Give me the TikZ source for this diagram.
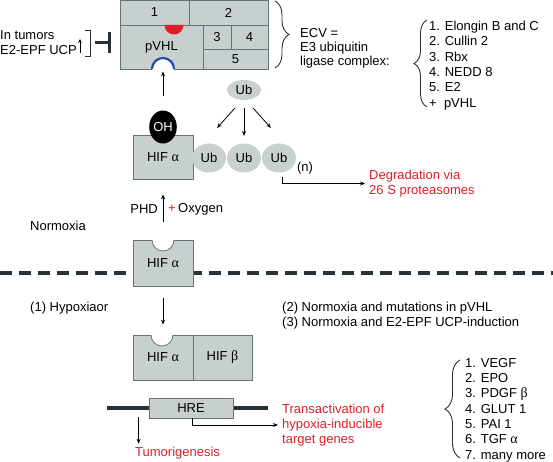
\documentclass[tikz,border=0pt]{standalone}
\usepackage{fontspec}
\setmainfont{Liberation Sans}
\newfontfamily\greekfont{Liberation Serif}
\usetikzlibrary{calc}
\usetikzlibrary{arrows.meta}
\usetikzlibrary{shapes.geometric}
\usetikzlibrary{decorations.pathreplacing}
\definecolor{cellfill}{RGB}{199,207,207}
\definecolor{cellline}{RGB}{105,115,117}
\definecolor{ubfill}{RGB}{200,208,208}
\definecolor{darkline}{RGB}{38,50,56}
\definecolor{hifred}{RGB}{222,30,40}
\definecolor{vhlblue}{RGB}{35,75,175}
\newcommand{\galpha}{{\greekfont\fontsize{14}{15.3}\selectfont α}}
\newcommand{\gbeta}{{\greekfont\fontsize{14}{15.3}\selectfont β}}
\newcommand{\subunit}[6] % name, left, top, right, bottom, label (y runs down)
{
	\node[cell, minimum width={#4-#2}, minimum height={#5-#3}] (#1) at ({(#2+#4)/2},{(#3+#5)/2}) {#6};
}
\newcommand{\notchcut}[3] % x, y of top edge, radius
{
	% cut the pocket out of the box
	\fill[white] (#1,#2) circle (#3);
	\draw[cellline, line width=0.8pt] ({#1-#3},#2) arc (180:0:#3);
}

\begin{document}
\begin{tikzpicture}[x=1pt, y=-1pt,
	every node/.style={font=\fontsize{13}{15.3}\selectfont, inner sep=0pt},
	cell/.style={draw=cellline, fill=cellfill, line width=0.8pt},
	ub/.style={ellipse, fill=ubfill, minimum width=34pt, minimum height=29pt},
	arr/.style={-{Stealth[length=5pt, width=4pt]}, line width=0.8pt},
	inhibit/.style={-{Bar[width=21pt]}, line width=3pt, darkline},
	redtxt/.style={text=hifred, align=left, anchor=west},
	curly/.style={decorate, decoration={brace, amplitude=#1}, line width=0.9pt, darkline}]
	\useasboundingbox (0,0) rectangle (553,462);

	% ECV complex
	\subunit{c1}{120}{0}{189}{25}{1}
	\subunit{c2}{189}{0}{268}{25}{2}
	\subunit{pvhl}{120}{25}{203}{69}{pVHL}
	\subunit{c3}{203}{25}{231}{49}{3}
	\subunit{c4}{231}{25}{268}{49}{4}
	\subunit{c5}{203}{49}{268}{69}{5}
	\fill[hifred] (164.5,25) arc (180:0:9.5) -- cycle;
	\fill[white] (163,69) circle (11);
	\draw[vhlblue, line width=2.2pt] (152,69) arc (180:360:11);

	\draw[curly=14pt] (275,1) -- (275,68);
	\node[anchor=west, align=left, font=\fontsize{13}{14}\selectfont] (ecv) at (300,48) {ECV =\\E3 ubiquitin\\ligase complex:};
	\draw[curly=13pt] (427,107) -- (427,20);
	\node[anchor=west, align=left] (ecvlist) at (429,65.5) {1. Elongin B and C\\2. Cullin 2\\3. Rbx\\4. NEDD 8\\5. E2\\+\ \ pVHL};

	% tumours block pVHL
	\node[anchor=west, align=left] (tumors) at (0,42.5) {In tumors\\E2-EPF UCP};
	\coordinate (ucp) at (80,53);
	\draw[-{Stealth[length=4pt, width=3.5pt]}, line width=0.8pt] (ucp) -- ++(0,-14);
	\draw[darkline, line width=0.8pt] (85,30) -- (90,30) -- (90,56) -- (85,56);
	\draw[inhibit] ($(tumors.east)+(18,0)$) -- ++(16,0);

	% hydroxylated HIF alpha gets ubiquitinated
	\subunit{hifup}{133}{135}{193}{179}{HIF \galpha}
	\node[ellipse, fill=black, text=white, minimum width=24pt, minimum height=33pt] (oh) at (163,127) {OH};
	\node[ub] (ub1) at (209,158) {Ub};
	\node[ub] (ub2) at (244,158) {Ub};
	\node[ub] (ub3) at (279,158) {Ub};
	\node[ub, minimum height=20pt] (ubtop) at (244,90) {Ub};
	\node (nlabel) at (305,168) {(n)};
	\draw[arr] ($(oh.north)+(0,-14)$) -- ($(pvhl.south -| oh.north)+(0,2)$);
	\draw[arr] ($(ubtop)+(-9,18)$) -- ($(ub1)+(8,-30)$);
	\draw[arr] ($(ubtop)+(0,18)$) -- ($(ub2)+(0,-22)$);
	\draw[arr] ($(ubtop)+(9,18)$) -- ($(ub3)+(-8,-30)$);
	\node[redtxt] (degr) at (369,183.5) {Degradation via\\26 S proteasomes};
	\draw[arr] ($(ub3.south)+(3,4)$) |- ($(degr.west)+(-4,0)$);

	% normoxia / hypoxia border
	\node[anchor=west] (normoxia) at (30,226) {Normoxia};
	\draw[darkline, line width=3.5pt, dash pattern=on 12pt off 7pt] (0,273) -- (553,273);
	\subunit{hifdown}{133}{240}{193}{286}{HIF \galpha}
	\notchcut{163}{240}{11}
	\draw[arr] ($(hifdown.north)+(0,-18)$) -- ($(hifup.south)+(0,15)$);
	\node[anchor=east] (phd) at (158,209) {PHD};
	\node[text=hifred] (plus) at (172,209) {+};
	\node[anchor=west] (oxy) at (178,209) {Oxygen};

	\node[anchor=west] (hypoxia) at (30,308) {(1) Hypoxiaor};
	\node[anchor=west, align=left] (mutations) at (282,315.5) {(2) Normoxia and mutations in pVHL\\(3) Normoxia and E2-EPF UCP-induction};

	% HIF dimer binds the HRE
	\subunit{hifa}{133}{335}{193}{380}{HIF \galpha}
	\subunit{hifb}{193}{335}{252}{380}{HIF \gbeta}
	\notchcut{162}{335}{11}
	\draw[arr] ($(hifdown.south)+(0,12)$) -- ($(hifa.north)+(0,-10)$);

	\draw[darkline, line width=4pt] (107,408) -- (268,408);
	\subunit{hre}{149}{398}{233}{418}{HRE}
	\node[redtxt] (tumor) at (135,453) {Tumorigenesis};
	\draw[arr] ($(hre.south west)+(-10,-1)$) -- ($(tumor.north -| hre.south west)+(-10,-3)$);
	\node[redtxt] (trans) at (282,425) {Transactivation of\\hypoxia-inducible\\target genes};
	\draw[arr] ($(hre.south)+(1,0)$) |- ($(trans.west)+(-4,0)$);

	\draw[curly=15pt] (460,458) -- (460,360);
	\node[anchor=west, align=left] (genes) at (465,410) {1. VEGF\\2. EPO\\3. PDGF \gbeta\\4. GLUT 1\\5. PAI 1\\6. TGF \galpha\\7. many more};
\end{tikzpicture}
\end{document}
